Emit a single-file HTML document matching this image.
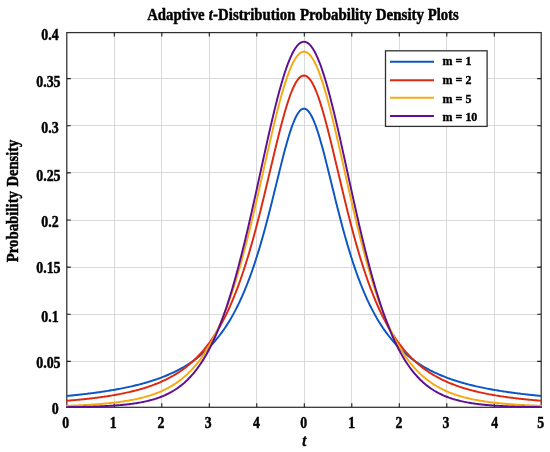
<!DOCTYPE html>
<html><head><meta charset="utf-8"><title>Adaptive t-Distribution Probability Density Plots</title>
<style>html,body{margin:0;padding:0;background:#fff}body{width:550px;height:452px;overflow:hidden}</style></head>
<body>
<svg width="550" height="452" viewBox="0 0 550 452" style="display:block">
<rect x="0" y="0" width="550" height="452" fill="#fff"/>
<path d="M114.5 32.6V407.3M161.5 32.6V407.3M209.5 32.6V407.3M256.5 32.6V407.3M304.5 32.6V407.3M351.5 32.6V407.3M399.5 32.6V407.3M446.5 32.6V407.3M494.5 32.6V407.3M66.8 361.5H541.2M66.8 314.5H541.2M66.8 267.5H541.2M66.8 220.5H541.2M66.8 172.5H541.2M66.8 125.5H541.2M66.8 78.5H541.2" stroke="#d9d9d9" stroke-width="1" fill="none"/>
<rect x="66.8" y="32.6" width="474.40" height="374.70" fill="none" stroke="#303030" stroke-width="1.25"/>
<path d="M114.30 32.6v4.0M114.30 407.3v-4.0M161.80 32.6v4.0M161.80 407.3v-4.0M209.30 32.6v4.0M209.30 407.3v-4.0M256.80 32.6v4.0M256.80 407.3v-4.0M304.30 32.6v4.0M304.30 407.3v-4.0M351.80 32.6v4.0M351.80 407.3v-4.0M399.30 32.6v4.0M399.30 407.3v-4.0M446.80 32.6v4.0M446.80 407.3v-4.0M494.30 32.6v4.0M494.30 407.3v-4.0M66.8 361.38h4.0M541.2 361.38h-4.0M66.8 314.26h4.0M541.2 314.26h-4.0M66.8 267.14h4.0M541.2 267.14h-4.0M66.8 220.02h4.0M541.2 220.02h-4.0M66.8 172.90h4.0M541.2 172.90h-4.0M66.8 125.78h4.0M541.2 125.78h-4.0M66.8 78.66h4.0M541.2 78.66h-4.0" stroke="#1c1c1c" stroke-width="1.1" fill="none"/>
<polyline points="66.00,396.00 67.19,395.89 68.38,395.78 69.57,395.67 70.76,395.55 71.95,395.43 73.14,395.31 74.33,395.19 75.52,395.07 76.71,394.94 77.90,394.81 79.09,394.69 80.28,394.56 81.47,394.42 82.66,394.29 83.85,394.15 85.04,394.01 86.23,393.87 87.42,393.73 88.61,393.58 89.80,393.43 90.98,393.28 92.17,393.13 93.36,392.98 94.55,392.82 95.74,392.66 96.93,392.50 98.12,392.33 99.31,392.16 100.50,391.99 101.69,391.82 102.88,391.64 104.07,391.46 105.26,391.28 106.45,391.10 107.64,390.91 108.83,390.72 110.02,390.52 111.21,390.32 112.40,390.12 113.59,389.92 114.78,389.71 115.97,389.50 117.16,389.28 118.35,389.06 119.54,388.84 120.73,388.61 121.92,388.38 123.11,388.14 124.30,387.90 125.49,387.66 126.68,387.41 127.87,387.15 129.06,386.89 130.25,386.63 131.44,386.36 132.63,386.09 133.82,385.81 135.01,385.53 136.20,385.24 137.38,384.94 138.57,384.64 139.76,384.33 140.95,384.02 142.14,383.70 143.33,383.38 144.52,383.05 145.71,382.71 146.90,382.36 148.09,382.01 149.28,381.65 150.47,381.28 151.66,380.91 152.85,380.53 154.04,380.14 155.23,379.74 156.42,379.33 157.61,378.91 158.80,378.49 159.99,378.05 161.18,377.61 162.37,377.16 163.56,376.69 164.75,376.22 165.94,375.74 167.13,375.24 168.32,374.74 169.51,374.22 170.70,373.69 171.89,373.15 173.08,372.59 174.27,372.03 175.46,371.45 176.65,370.85 177.84,370.24 179.03,369.62 180.22,368.98 181.41,368.33 182.60,367.66 183.79,366.98 184.97,366.27 186.16,365.55 187.35,364.82 188.54,364.06 189.73,363.29 190.92,362.49 192.11,361.68 193.30,360.84 194.49,359.98 195.68,359.10 196.87,358.20 198.06,357.27 199.25,356.32 200.44,355.34 201.63,354.34 202.82,353.31 204.01,352.25 205.20,351.16 206.39,350.05 207.58,348.90 208.77,347.72 209.96,346.51 211.15,345.26 212.34,343.98 213.53,342.66 214.72,341.31 215.91,339.92 217.10,338.48 218.29,337.01 219.48,335.49 220.67,333.93 221.86,332.32 223.05,330.66 224.24,328.96 225.43,327.21 226.62,325.40 227.81,323.54 229.00,321.63 230.19,319.65 231.38,317.62 232.56,315.53 233.75,313.38 234.94,311.16 236.13,308.88 237.32,306.52 238.51,304.10 239.70,301.60 240.89,299.03 242.08,296.39 243.27,293.66 244.46,290.86 245.65,287.97 246.84,285.00 248.03,281.95 249.22,278.81 250.41,275.57 251.60,272.25 252.79,268.84 253.98,265.34 255.17,261.74 256.36,258.05 257.55,254.27 258.74,250.39 259.93,246.43 261.12,242.37 262.31,238.22 263.50,233.98 264.69,229.65 265.88,225.25 267.07,220.76 268.26,216.21 269.45,211.58 270.64,206.90 271.83,202.16 273.02,197.38 274.21,192.57 275.40,187.73 276.59,182.87 277.78,178.02 278.97,173.19 280.15,168.39 281.34,163.63 282.53,158.94 283.72,154.33 284.91,149.83 286.10,145.46 287.29,141.23 288.48,137.16 289.67,133.29 290.86,129.62 292.05,126.19 293.24,123.01 294.43,120.10 295.62,117.49 296.81,115.18 298.00,113.21 299.19,111.57 300.38,110.28 301.57,109.35 302.76,108.79 303.95,108.61 305.14,108.79 306.33,109.35 307.52,110.28 308.71,111.57 309.90,113.21 311.09,115.18 312.28,117.49 313.47,120.10 314.66,123.01 315.85,126.19 317.04,129.62 318.23,133.29 319.42,137.16 320.61,141.23 321.80,145.46 322.99,149.83 324.18,154.33 325.37,158.94 326.56,163.63 327.75,168.39 328.93,173.19 330.12,178.02 331.31,182.87 332.50,187.73 333.69,192.57 334.88,197.38 336.07,202.16 337.26,206.90 338.45,211.58 339.64,216.21 340.83,220.76 342.02,225.25 343.21,229.65 344.40,233.98 345.59,238.22 346.78,242.37 347.97,246.43 349.16,250.39 350.35,254.27 351.54,258.05 352.73,261.74 353.92,265.34 355.11,268.84 356.30,272.25 357.49,275.57 358.68,278.81 359.87,281.95 361.06,285.00 362.25,287.97 363.44,290.86 364.63,293.66 365.82,296.39 367.01,299.03 368.20,301.60 369.39,304.10 370.58,306.52 371.77,308.88 372.96,311.16 374.15,313.38 375.33,315.53 376.52,317.62 377.71,319.65 378.90,321.63 380.09,323.54 381.28,325.40 382.47,327.21 383.66,328.96 384.85,330.66 386.04,332.32 387.23,333.93 388.42,335.49 389.61,337.01 390.80,338.48 391.99,339.92 393.18,341.31 394.37,342.66 395.56,343.98 396.75,345.26 397.94,346.51 399.13,347.72 400.32,348.90 401.51,350.05 402.70,351.16 403.89,352.25 405.08,353.31 406.27,354.34 407.46,355.34 408.65,356.32 409.84,357.27 411.03,358.20 412.22,359.10 413.41,359.98 414.60,360.84 415.79,361.68 416.98,362.49 418.17,363.29 419.36,364.06 420.55,364.82 421.74,365.55 422.92,366.27 424.11,366.98 425.30,367.66 426.49,368.33 427.68,368.98 428.87,369.62 430.06,370.24 431.25,370.85 432.44,371.45 433.63,372.03 434.82,372.59 436.01,373.15 437.20,373.69 438.39,374.22 439.58,374.74 440.77,375.24 441.96,375.74 443.15,376.22 444.34,376.69 445.53,377.16 446.72,377.61 447.91,378.05 449.10,378.49 450.29,378.91 451.48,379.33 452.67,379.74 453.86,380.14 455.05,380.53 456.24,380.91 457.43,381.28 458.62,381.65 459.81,382.01 461.00,382.36 462.19,382.71 463.38,383.05 464.57,383.38 465.76,383.70 466.95,384.02 468.14,384.33 469.33,384.64 470.51,384.94 471.70,385.24 472.89,385.53 474.08,385.81 475.27,386.09 476.46,386.36 477.65,386.63 478.84,386.89 480.03,387.15 481.22,387.41 482.41,387.66 483.60,387.90 484.79,388.14 485.98,388.38 487.17,388.61 488.36,388.84 489.55,389.06 490.74,389.28 491.93,389.50 493.12,389.71 494.31,389.92 495.50,390.12 496.69,390.32 497.88,390.52 499.07,390.72 500.26,390.91 501.45,391.10 502.64,391.28 503.83,391.46 505.02,391.64 506.21,391.82 507.40,391.99 508.59,392.16 509.78,392.33 510.97,392.50 512.16,392.66 513.35,392.82 514.54,392.98 515.73,393.13 516.92,393.28 518.11,393.43 519.29,393.58 520.48,393.73 521.67,393.87 522.86,394.01 524.05,394.15 525.24,394.29 526.43,394.42 527.62,394.56 528.81,394.69 530.00,394.81 531.19,394.94 532.38,395.07 533.57,395.19 534.76,395.31 535.95,395.43 537.14,395.55 538.33,395.67 539.52,395.78 540.71,395.89 541.90,396.00" fill="none" stroke="#0c55c4" stroke-width="1.95" stroke-linejoin="round"/>
<polyline points="66.00,400.81 67.19,400.71 68.38,400.62 69.57,400.52 70.76,400.42 71.95,400.32 73.14,400.22 74.33,400.11 75.52,400.01 76.71,399.90 77.90,399.79 79.09,399.67 80.28,399.56 81.47,399.44 82.66,399.32 83.85,399.20 85.04,399.08 86.23,398.95 87.42,398.82 88.61,398.69 89.80,398.55 90.98,398.42 92.17,398.28 93.36,398.13 94.55,397.99 95.74,397.84 96.93,397.69 98.12,397.53 99.31,397.38 100.50,397.22 101.69,397.05 102.88,396.88 104.07,396.71 105.26,396.54 106.45,396.36 107.64,396.18 108.83,395.99 110.02,395.80 111.21,395.61 112.40,395.41 113.59,395.20 114.78,395.00 115.97,394.79 117.16,394.57 118.35,394.35 119.54,394.12 120.73,393.89 121.92,393.65 123.11,393.41 124.30,393.17 125.49,392.91 126.68,392.66 127.87,392.39 129.06,392.12 130.25,391.84 131.44,391.56 132.63,391.27 133.82,390.98 135.01,390.67 136.20,390.36 137.38,390.04 138.57,389.72 139.76,389.39 140.95,389.04 142.14,388.69 143.33,388.34 144.52,387.97 145.71,387.59 146.90,387.21 148.09,386.82 149.28,386.41 150.47,386.00 151.66,385.57 152.85,385.14 154.04,384.69 155.23,384.23 156.42,383.76 157.61,383.28 158.80,382.79 159.99,382.28 161.18,381.76 162.37,381.23 163.56,380.68 164.75,380.12 165.94,379.54 167.13,378.95 168.32,378.34 169.51,377.72 170.70,377.08 171.89,376.42 173.08,375.75 174.27,375.05 175.46,374.34 176.65,373.61 177.84,372.85 179.03,372.08 180.22,371.28 181.41,370.47 182.60,369.63 183.79,368.76 184.97,367.87 186.16,366.96 187.35,366.02 188.54,365.06 189.73,364.06 190.92,363.04 192.11,361.99 193.30,360.91 194.49,359.79 195.68,358.65 196.87,357.47 198.06,356.26 199.25,355.01 200.44,353.72 201.63,352.40 202.82,351.04 204.01,349.64 205.20,348.20 206.39,346.71 207.58,345.18 208.77,343.61 209.96,341.99 211.15,340.32 212.34,338.60 213.53,336.83 214.72,335.01 215.91,333.14 217.10,331.20 218.29,329.22 219.48,327.17 220.67,325.06 221.86,322.90 223.05,320.66 224.24,318.37 225.43,316.00 226.62,313.57 227.81,311.07 229.00,308.49 230.19,305.85 231.38,303.13 232.56,300.33 233.75,297.45 234.94,294.50 236.13,291.46 237.32,288.34 238.51,285.14 239.70,281.86 240.89,278.48 242.08,275.03 243.27,271.48 244.46,267.85 245.65,264.13 246.84,260.33 248.03,256.43 249.22,252.45 250.41,248.38 251.60,244.23 252.79,239.99 253.98,235.67 255.17,231.27 256.36,226.79 257.55,222.23 258.74,217.61 259.93,212.91 261.12,208.15 262.31,203.34 263.50,198.47 264.69,193.55 265.88,188.59 267.07,183.60 268.26,178.59 269.45,173.56 270.64,168.52 271.83,163.48 273.02,158.46 274.21,153.46 275.40,148.50 276.59,143.59 277.78,138.74 278.97,133.96 280.15,129.28 281.34,124.69 282.53,120.23 283.72,115.90 284.91,111.71 286.10,107.68 287.29,103.84 288.48,100.18 289.67,96.72 290.86,93.49 292.05,90.49 293.24,87.73 294.43,85.23 295.62,83.00 296.81,81.04 298.00,79.37 299.19,77.99 300.38,76.91 301.57,76.13 302.76,75.67 303.95,75.51 305.14,75.67 306.33,76.13 307.52,76.91 308.71,77.99 309.90,79.37 311.09,81.04 312.28,83.00 313.47,85.23 314.66,87.73 315.85,90.49 317.04,93.49 318.23,96.72 319.42,100.18 320.61,103.84 321.80,107.68 322.99,111.71 324.18,115.90 325.37,120.23 326.56,124.69 327.75,129.28 328.93,133.96 330.12,138.74 331.31,143.59 332.50,148.50 333.69,153.46 334.88,158.46 336.07,163.48 337.26,168.52 338.45,173.56 339.64,178.59 340.83,183.60 342.02,188.59 343.21,193.55 344.40,198.47 345.59,203.34 346.78,208.15 347.97,212.91 349.16,217.61 350.35,222.23 351.54,226.79 352.73,231.27 353.92,235.67 355.11,239.99 356.30,244.23 357.49,248.38 358.68,252.45 359.87,256.43 361.06,260.33 362.25,264.13 363.44,267.85 364.63,271.48 365.82,275.03 367.01,278.48 368.20,281.86 369.39,285.14 370.58,288.34 371.77,291.46 372.96,294.50 374.15,297.45 375.33,300.33 376.52,303.13 377.71,305.85 378.90,308.49 380.09,311.07 381.28,313.57 382.47,316.00 383.66,318.37 384.85,320.66 386.04,322.90 387.23,325.06 388.42,327.17 389.61,329.22 390.80,331.20 391.99,333.14 393.18,335.01 394.37,336.83 395.56,338.60 396.75,340.32 397.94,341.99 399.13,343.61 400.32,345.18 401.51,346.71 402.70,348.20 403.89,349.64 405.08,351.04 406.27,352.40 407.46,353.72 408.65,355.01 409.84,356.26 411.03,357.47 412.22,358.65 413.41,359.79 414.60,360.91 415.79,361.99 416.98,363.04 418.17,364.06 419.36,365.06 420.55,366.02 421.74,366.96 422.92,367.87 424.11,368.76 425.30,369.63 426.49,370.47 427.68,371.28 428.87,372.08 430.06,372.85 431.25,373.61 432.44,374.34 433.63,375.05 434.82,375.75 436.01,376.42 437.20,377.08 438.39,377.72 439.58,378.34 440.77,378.95 441.96,379.54 443.15,380.12 444.34,380.68 445.53,381.23 446.72,381.76 447.91,382.28 449.10,382.79 450.29,383.28 451.48,383.76 452.67,384.23 453.86,384.69 455.05,385.14 456.24,385.57 457.43,386.00 458.62,386.41 459.81,386.82 461.00,387.21 462.19,387.59 463.38,387.97 464.57,388.34 465.76,388.69 466.95,389.04 468.14,389.39 469.33,389.72 470.51,390.04 471.70,390.36 472.89,390.67 474.08,390.98 475.27,391.27 476.46,391.56 477.65,391.84 478.84,392.12 480.03,392.39 481.22,392.66 482.41,392.91 483.60,393.17 484.79,393.41 485.98,393.65 487.17,393.89 488.36,394.12 489.55,394.35 490.74,394.57 491.93,394.79 493.12,395.00 494.31,395.20 495.50,395.41 496.69,395.61 497.88,395.80 499.07,395.99 500.26,396.18 501.45,396.36 502.64,396.54 503.83,396.71 505.02,396.88 506.21,397.05 507.40,397.22 508.59,397.38 509.78,397.53 510.97,397.69 512.16,397.84 513.35,397.99 514.54,398.13 515.73,398.28 516.92,398.42 518.11,398.55 519.29,398.69 520.48,398.82 521.67,398.95 522.86,399.08 524.05,399.20 525.24,399.32 526.43,399.44 527.62,399.56 528.81,399.67 530.00,399.79 531.19,399.90 532.38,400.01 533.57,400.11 534.76,400.22 535.95,400.32 537.14,400.42 538.33,400.52 539.52,400.62 540.71,400.71 541.90,400.81" fill="none" stroke="#dc2a12" stroke-width="1.95" stroke-linejoin="round"/>
<polyline points="66.00,405.85 67.19,405.81 68.38,405.77 69.57,405.72 70.76,405.68 71.95,405.63 73.14,405.58 74.33,405.53 75.52,405.48 76.71,405.43 77.90,405.38 79.09,405.32 80.28,405.26 81.47,405.20 82.66,405.14 83.85,405.08 85.04,405.02 86.23,404.95 87.42,404.88 88.61,404.81 89.80,404.74 90.98,404.66 92.17,404.59 93.36,404.51 94.55,404.42 95.74,404.34 96.93,404.25 98.12,404.16 99.31,404.07 100.50,403.97 101.69,403.87 102.88,403.77 104.07,403.67 105.26,403.56 106.45,403.45 107.64,403.33 108.83,403.21 110.02,403.09 111.21,402.96 112.40,402.83 113.59,402.70 114.78,402.56 115.97,402.41 117.16,402.27 118.35,402.11 119.54,401.95 120.73,401.79 121.92,401.62 123.11,401.45 124.30,401.27 125.49,401.08 126.68,400.89 127.87,400.69 129.06,400.48 130.25,400.27 131.44,400.05 132.63,399.82 133.82,399.59 135.01,399.35 136.20,399.09 137.38,398.84 138.57,398.57 139.76,398.29 140.95,398.00 142.14,397.71 143.33,397.40 144.52,397.08 145.71,396.75 146.90,396.41 148.09,396.06 149.28,395.70 150.47,395.32 151.66,394.93 152.85,394.53 154.04,394.12 155.23,393.68 156.42,393.24 157.61,392.78 158.80,392.30 159.99,391.80 161.18,391.29 162.37,390.76 163.56,390.21 164.75,389.64 165.94,389.06 167.13,388.45 168.32,387.82 169.51,387.17 170.70,386.49 171.89,385.79 173.08,385.07 174.27,384.32 175.46,383.54 176.65,382.74 177.84,381.91 179.03,381.04 180.22,380.15 181.41,379.23 182.60,378.28 183.79,377.29 184.97,376.26 186.16,375.20 187.35,374.11 188.54,372.97 189.73,371.80 190.92,370.58 192.11,369.33 193.30,368.03 194.49,366.68 195.68,365.29 196.87,363.85 198.06,362.36 199.25,360.82 200.44,359.23 201.63,357.58 202.82,355.88 204.01,354.12 205.20,352.31 206.39,350.43 207.58,348.49 208.77,346.49 209.96,344.42 211.15,342.29 212.34,340.09 213.53,337.82 214.72,335.48 215.91,333.06 217.10,330.57 218.29,328.00 219.48,325.36 220.67,322.64 221.86,319.83 223.05,316.95 224.24,313.98 225.43,310.93 226.62,307.79 227.81,304.57 229.00,301.25 230.19,297.86 231.38,294.37 232.56,290.79 233.75,287.12 234.94,283.37 236.13,279.52 237.32,275.58 238.51,271.56 239.70,267.45 240.89,263.25 242.08,258.96 243.27,254.59 244.46,250.13 245.65,245.60 246.84,240.98 248.03,236.29 249.22,231.52 250.41,226.69 251.60,221.78 252.79,216.82 253.98,211.80 255.17,206.72 256.36,201.59 257.55,196.43 258.74,191.22 259.93,185.99 261.12,180.73 262.31,175.45 263.50,170.16 264.69,164.88 265.88,159.60 267.07,154.33 268.26,149.09 269.45,143.88 270.64,138.71 271.83,133.60 273.02,128.55 274.21,123.57 275.40,118.68 276.59,113.88 277.78,109.18 278.97,104.60 280.15,100.14 281.34,95.82 282.53,91.65 283.72,87.63 284.91,83.78 286.10,80.10 287.29,76.62 288.48,73.32 289.67,70.24 290.86,67.36 292.05,64.71 293.24,62.29 294.43,60.10 295.62,58.15 296.81,56.46 298.00,55.01 299.19,53.82 300.38,52.89 301.57,52.23 302.76,51.83 303.95,51.69 305.14,51.83 306.33,52.23 307.52,52.89 308.71,53.82 309.90,55.01 311.09,56.46 312.28,58.15 313.47,60.10 314.66,62.29 315.85,64.71 317.04,67.36 318.23,70.24 319.42,73.32 320.61,76.62 321.80,80.10 322.99,83.78 324.18,87.63 325.37,91.65 326.56,95.82 327.75,100.14 328.93,104.60 330.12,109.18 331.31,113.88 332.50,118.68 333.69,123.57 334.88,128.55 336.07,133.60 337.26,138.71 338.45,143.88 339.64,149.09 340.83,154.33 342.02,159.60 343.21,164.88 344.40,170.16 345.59,175.45 346.78,180.73 347.97,185.99 349.16,191.22 350.35,196.43 351.54,201.59 352.73,206.72 353.92,211.80 355.11,216.82 356.30,221.78 357.49,226.69 358.68,231.52 359.87,236.29 361.06,240.98 362.25,245.60 363.44,250.13 364.63,254.59 365.82,258.96 367.01,263.25 368.20,267.45 369.39,271.56 370.58,275.58 371.77,279.52 372.96,283.37 374.15,287.12 375.33,290.79 376.52,294.37 377.71,297.86 378.90,301.25 380.09,304.57 381.28,307.79 382.47,310.93 383.66,313.98 384.85,316.95 386.04,319.83 387.23,322.64 388.42,325.36 389.61,328.00 390.80,330.57 391.99,333.06 393.18,335.48 394.37,337.82 395.56,340.09 396.75,342.29 397.94,344.42 399.13,346.49 400.32,348.49 401.51,350.43 402.70,352.31 403.89,354.12 405.08,355.88 406.27,357.58 407.46,359.23 408.65,360.82 409.84,362.36 411.03,363.85 412.22,365.29 413.41,366.68 414.60,368.03 415.79,369.33 416.98,370.58 418.17,371.80 419.36,372.97 420.55,374.11 421.74,375.20 422.92,376.26 424.11,377.29 425.30,378.28 426.49,379.23 427.68,380.15 428.87,381.04 430.06,381.91 431.25,382.74 432.44,383.54 433.63,384.32 434.82,385.07 436.01,385.79 437.20,386.49 438.39,387.17 439.58,387.82 440.77,388.45 441.96,389.06 443.15,389.64 444.34,390.21 445.53,390.76 446.72,391.29 447.91,391.80 449.10,392.30 450.29,392.78 451.48,393.24 452.67,393.68 453.86,394.12 455.05,394.53 456.24,394.93 457.43,395.32 458.62,395.70 459.81,396.06 461.00,396.41 462.19,396.75 463.38,397.08 464.57,397.40 465.76,397.71 466.95,398.00 468.14,398.29 469.33,398.57 470.51,398.84 471.70,399.09 472.89,399.35 474.08,399.59 475.27,399.82 476.46,400.05 477.65,400.27 478.84,400.48 480.03,400.69 481.22,400.89 482.41,401.08 483.60,401.27 484.79,401.45 485.98,401.62 487.17,401.79 488.36,401.95 489.55,402.11 490.74,402.27 491.93,402.41 493.12,402.56 494.31,402.70 495.50,402.83 496.69,402.96 497.88,403.09 499.07,403.21 500.26,403.33 501.45,403.45 502.64,403.56 503.83,403.67 505.02,403.77 506.21,403.87 507.40,403.97 508.59,404.07 509.78,404.16 510.97,404.25 512.16,404.34 513.35,404.42 514.54,404.51 515.73,404.59 516.92,404.66 518.11,404.74 519.29,404.81 520.48,404.88 521.67,404.95 522.86,405.02 524.05,405.08 525.24,405.14 526.43,405.20 527.62,405.26 528.81,405.32 530.00,405.38 531.19,405.43 532.38,405.48 533.57,405.53 534.76,405.58 535.95,405.63 537.14,405.68 538.33,405.72 539.52,405.77 540.71,405.81 541.90,405.85" fill="none" stroke="#f4aa12" stroke-width="1.95" stroke-linejoin="round"/>
<polyline points="66.00,407.13 67.19,407.11 68.38,407.10 69.57,407.08 70.76,407.06 71.95,407.05 73.14,407.03 74.33,407.01 75.52,406.99 76.71,406.97 77.90,406.95 79.09,406.92 80.28,406.90 81.47,406.88 82.66,406.85 83.85,406.82 85.04,406.79 86.23,406.77 87.42,406.73 88.61,406.70 89.80,406.67 90.98,406.64 92.17,406.60 93.36,406.56 94.55,406.52 95.74,406.48 96.93,406.44 98.12,406.39 99.31,406.35 100.50,406.30 101.69,406.25 102.88,406.19 104.07,406.14 105.26,406.08 106.45,406.02 107.64,405.95 108.83,405.89 110.02,405.82 111.21,405.75 112.40,405.67 113.59,405.59 114.78,405.51 115.97,405.42 117.16,405.33 118.35,405.24 119.54,405.14 120.73,405.04 121.92,404.93 123.11,404.82 124.30,404.70 125.49,404.58 126.68,404.45 127.87,404.32 129.06,404.18 130.25,404.03 131.44,403.88 132.63,403.72 133.82,403.55 135.01,403.38 136.20,403.19 137.38,403.00 138.57,402.80 139.76,402.60 140.95,402.38 142.14,402.15 143.33,401.92 144.52,401.67 145.71,401.41 146.90,401.14 148.09,400.86 149.28,400.56 150.47,400.25 151.66,399.93 152.85,399.59 154.04,399.24 155.23,398.88 156.42,398.49 157.61,398.09 158.80,397.68 159.99,397.24 161.18,396.78 162.37,396.31 163.56,395.81 164.75,395.29 165.94,394.75 167.13,394.19 168.32,393.60 169.51,392.99 170.70,392.35 171.89,391.68 173.08,390.98 174.27,390.26 175.46,389.50 176.65,388.71 177.84,387.89 179.03,387.03 180.22,386.14 181.41,385.21 182.60,384.24 183.79,383.23 184.97,382.18 186.16,381.08 187.35,379.95 188.54,378.76 189.73,377.53 190.92,376.25 192.11,374.92 193.30,373.54 194.49,372.10 195.68,370.61 196.87,369.06 198.06,367.45 199.25,365.78 200.44,364.05 201.63,362.25 202.82,360.39 204.01,358.46 205.20,356.46 206.39,354.39 207.58,352.24 208.77,350.02 209.96,347.73 211.15,345.35 212.34,342.90 213.53,340.36 214.72,337.74 215.91,335.04 217.10,332.25 218.29,329.37 219.48,326.41 220.67,323.35 221.86,320.20 223.05,316.97 224.24,313.64 225.43,310.21 226.62,306.70 227.81,303.09 229.00,299.38 230.19,295.58 231.38,291.69 232.56,287.70 233.75,283.62 234.94,279.45 236.13,275.18 237.32,270.83 238.51,266.39 239.70,261.85 240.89,257.24 242.08,252.54 243.27,247.76 244.46,242.91 245.65,237.98 246.84,232.98 248.03,227.91 249.22,222.78 250.41,217.59 251.60,212.35 252.79,207.06 253.98,201.73 255.17,196.36 256.36,190.96 257.55,185.54 258.74,180.09 259.93,174.64 261.12,169.18 262.31,163.73 263.50,158.29 264.69,152.87 265.88,147.47 267.07,142.12 268.26,136.80 269.45,131.55 270.64,126.35 271.83,121.23 273.02,116.19 274.21,111.24 275.40,106.39 276.59,101.65 277.78,97.03 278.97,92.54 280.15,88.19 281.34,83.98 282.53,79.92 283.72,76.03 284.91,72.32 286.10,68.78 287.29,65.43 288.48,62.28 289.67,59.33 290.86,56.58 292.05,54.06 293.24,51.76 294.43,49.68 295.62,47.84 296.81,46.23 298.00,44.87 299.19,43.74 300.38,42.87 301.57,42.24 302.76,41.86 303.95,41.74 305.14,41.86 306.33,42.24 307.52,42.87 308.71,43.74 309.90,44.87 311.09,46.23 312.28,47.84 313.47,49.68 314.66,51.76 315.85,54.06 317.04,56.58 318.23,59.33 319.42,62.28 320.61,65.43 321.80,68.78 322.99,72.32 324.18,76.03 325.37,79.92 326.56,83.98 327.75,88.19 328.93,92.54 330.12,97.03 331.31,101.65 332.50,106.39 333.69,111.24 334.88,116.19 336.07,121.23 337.26,126.35 338.45,131.55 339.64,136.80 340.83,142.12 342.02,147.47 343.21,152.87 344.40,158.29 345.59,163.73 346.78,169.18 347.97,174.64 349.16,180.09 350.35,185.54 351.54,190.96 352.73,196.36 353.92,201.73 355.11,207.06 356.30,212.35 357.49,217.59 358.68,222.78 359.87,227.91 361.06,232.98 362.25,237.98 363.44,242.91 364.63,247.76 365.82,252.54 367.01,257.24 368.20,261.85 369.39,266.39 370.58,270.83 371.77,275.18 372.96,279.45 374.15,283.62 375.33,287.70 376.52,291.69 377.71,295.58 378.90,299.38 380.09,303.09 381.28,306.70 382.47,310.21 383.66,313.64 384.85,316.97 386.04,320.20 387.23,323.35 388.42,326.41 389.61,329.37 390.80,332.25 391.99,335.04 393.18,337.74 394.37,340.36 395.56,342.90 396.75,345.35 397.94,347.73 399.13,350.02 400.32,352.24 401.51,354.39 402.70,356.46 403.89,358.46 405.08,360.39 406.27,362.25 407.46,364.05 408.65,365.78 409.84,367.45 411.03,369.06 412.22,370.61 413.41,372.10 414.60,373.54 415.79,374.92 416.98,376.25 418.17,377.53 419.36,378.76 420.55,379.95 421.74,381.08 422.92,382.18 424.11,383.23 425.30,384.24 426.49,385.21 427.68,386.14 428.87,387.03 430.06,387.89 431.25,388.71 432.44,389.50 433.63,390.26 434.82,390.98 436.01,391.68 437.20,392.35 438.39,392.99 439.58,393.60 440.77,394.19 441.96,394.75 443.15,395.29 444.34,395.81 445.53,396.31 446.72,396.78 447.91,397.24 449.10,397.68 450.29,398.09 451.48,398.49 452.67,398.88 453.86,399.24 455.05,399.59 456.24,399.93 457.43,400.25 458.62,400.56 459.81,400.86 461.00,401.14 462.19,401.41 463.38,401.67 464.57,401.92 465.76,402.15 466.95,402.38 468.14,402.60 469.33,402.80 470.51,403.00 471.70,403.19 472.89,403.38 474.08,403.55 475.27,403.72 476.46,403.88 477.65,404.03 478.84,404.18 480.03,404.32 481.22,404.45 482.41,404.58 483.60,404.70 484.79,404.82 485.98,404.93 487.17,405.04 488.36,405.14 489.55,405.24 490.74,405.33 491.93,405.42 493.12,405.51 494.31,405.59 495.50,405.67 496.69,405.75 497.88,405.82 499.07,405.89 500.26,405.95 501.45,406.02 502.64,406.08 503.83,406.14 505.02,406.19 506.21,406.25 507.40,406.30 508.59,406.35 509.78,406.39 510.97,406.44 512.16,406.48 513.35,406.52 514.54,406.56 515.73,406.60 516.92,406.64 518.11,406.67 519.29,406.70 520.48,406.73 521.67,406.77 522.86,406.79 524.05,406.82 525.24,406.85 526.43,406.88 527.62,406.90 528.81,406.92 530.00,406.95 531.19,406.97 532.38,406.99 533.57,407.01 534.76,407.03 535.95,407.05 537.14,407.06 538.33,407.08 539.52,407.10 540.71,407.11 541.90,407.13" fill="none" stroke="#5e1090" stroke-width="1.95" stroke-linejoin="round"/>
<g font-family="'Liberation Serif', serif" font-weight="bold" fill="#000" stroke="#000" stroke-width="0.5">
<text transform="translate(147.20,19.80) scale(0.8337,1)" font-size="17.7" text-anchor="start">Adaptive</text>
<text transform="translate(208.80,19.80) scale(0.8164,1)" font-size="17.7" text-anchor="start" font-style="italic">t</text>
<text transform="translate(213.10,19.80) scale(0.8385,1)" font-size="17.7" text-anchor="start">-Distribution</text>
<text transform="translate(299.90,19.80) scale(0.8423,1)" font-size="17.7" text-anchor="start">Probability</text>
<text transform="translate(375.70,19.80) scale(0.8500,1)" font-size="17.7" text-anchor="start">Density</text>
<text transform="translate(427.70,19.80) scale(0.8298,1)" font-size="17.7" text-anchor="start">Plots</text>
<text transform="translate(65.80,428.10) scale(0.7780,1)" font-size="17.7" text-anchor="middle">0</text>
<text transform="translate(113.30,428.10) scale(0.7780,1)" font-size="17.7" text-anchor="middle">1</text>
<text transform="translate(161.00,428.10) scale(0.7780,1)" font-size="17.7" text-anchor="middle">2</text>
<text transform="translate(208.30,428.10) scale(0.7780,1)" font-size="17.7" text-anchor="middle">3</text>
<text transform="translate(256.50,428.10) scale(0.7780,1)" font-size="17.7" text-anchor="middle">4</text>
<text transform="translate(303.65,428.10) scale(0.7780,1)" font-size="17.7" text-anchor="middle">0</text>
<text transform="translate(351.80,428.10) scale(0.7780,1)" font-size="17.7" text-anchor="middle">1</text>
<text transform="translate(398.90,428.10) scale(0.7780,1)" font-size="17.7" text-anchor="middle">2</text>
<text transform="translate(446.05,428.10) scale(0.7780,1)" font-size="17.7" text-anchor="middle">3</text>
<text transform="translate(494.60,428.10) scale(0.7780,1)" font-size="17.7" text-anchor="middle">4</text>
<text transform="translate(540.80,428.10) scale(0.7780,1)" font-size="17.7" text-anchor="middle">5</text>
<text transform="translate(58.60,413.80) scale(0.7876,1)" font-size="17.7" text-anchor="end">0</text>
<text transform="translate(60.60,367.88) scale(0.7876,1)" font-size="17.7" text-anchor="end">0.05</text>
<text transform="translate(58.60,321.81) scale(0.7876,1)" font-size="17.7" text-anchor="end">0.1</text>
<text transform="translate(60.60,272.74) scale(0.7876,1)" font-size="17.7" text-anchor="end">0.15</text>
<text transform="translate(58.60,227.47) scale(0.7876,1)" font-size="17.7" text-anchor="end">0.2</text>
<text transform="translate(60.60,181.00) scale(0.7876,1)" font-size="17.7" text-anchor="end">0.25</text>
<text transform="translate(58.60,133.18) scale(0.7876,1)" font-size="17.7" text-anchor="end">0.3</text>
<text transform="translate(60.60,86.91) scale(0.7876,1)" font-size="17.7" text-anchor="end">0.35</text>
<text transform="translate(58.60,40.14) scale(0.7876,1)" font-size="17.7" text-anchor="end">0.4</text>
<text transform="translate(304.35,446.00) scale(0.8164,1)" font-size="17.7" text-anchor="middle" font-style="italic">t</text>
<text transform="translate(17.90,262.30) rotate(-90) scale(0.8375,1)" font-size="17.7" text-anchor="start">Probability</text>
<text transform="translate(17.90,186.60) rotate(-90) scale(0.8231,1)" font-size="17.7" text-anchor="start">Density</text>
</g>
<rect x="385.5" y="50.8" width="101.6" height="75.6" fill="#fff" stroke="#303030" stroke-width="1.3"/>
<g font-family="'Liberation Serif', serif" font-weight="bold" fill="#000" stroke="#000" stroke-width="0.4">
<path d="M390 61.75H434" stroke="#0c55c4" stroke-width="2.0" fill="none"/>
<text transform="translate(442.6,64.95) scale(0.888,1)" font-size="13.5">m = 1</text>
<path d="M390 80.3H434" stroke="#dc2a12" stroke-width="2.0" fill="none"/>
<text transform="translate(442.6,83.7) scale(0.888,1)" font-size="13.5">m = 2</text>
<path d="M390 97.8H434" stroke="#f4aa12" stroke-width="2.0" fill="none"/>
<text transform="translate(442.6,102.5) scale(0.888,1)" font-size="13.5">m = 5</text>
<path d="M390 116.1H434" stroke="#5e1090" stroke-width="2.0" fill="none"/>
<text transform="translate(442.6,120.8) scale(0.888,1)" font-size="13.5">m = 10</text>
</g>
</svg>
</body></html>
